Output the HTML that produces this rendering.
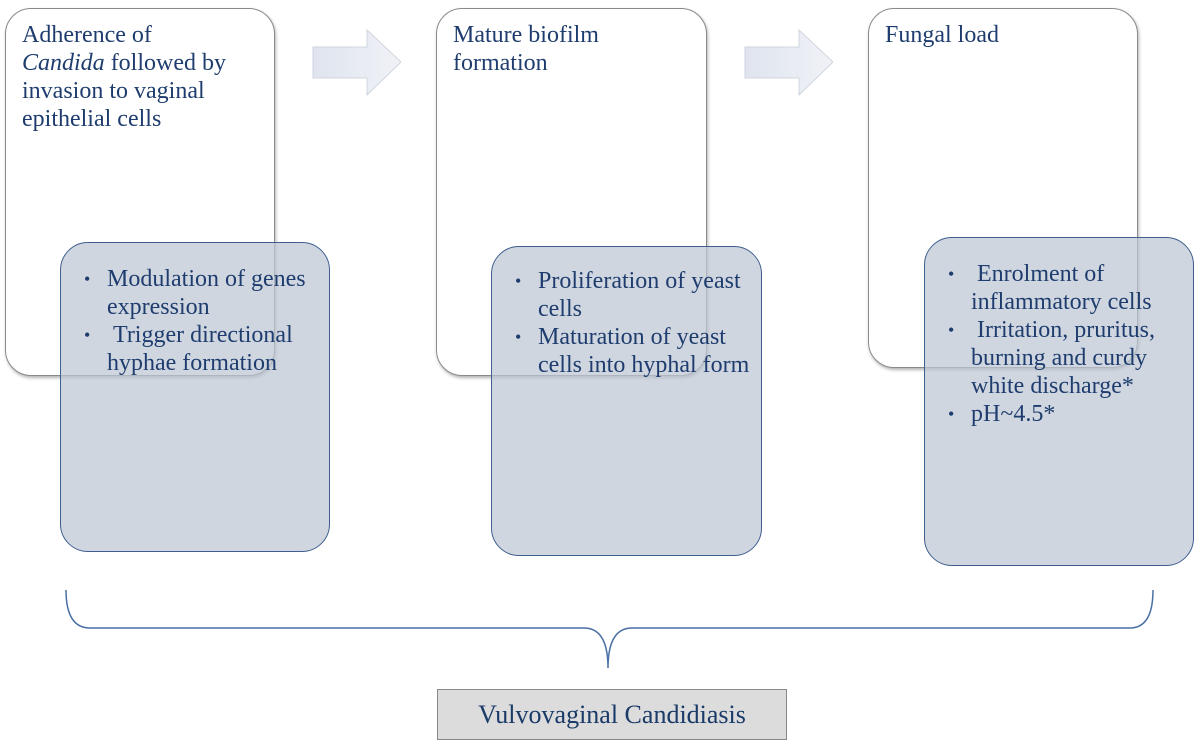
<!DOCTYPE html>
<html><head><style>
body{margin:0;width:1200px;height:744px;background:#fff;position:relative;overflow:hidden;font-family:"Liberation Serif",serif;color:#1e3d6e}
.w{position:absolute;background:#fff;border:1.5px solid #8a8a8a;border-radius:26px;box-shadow:1px 2px 3px rgba(0,0,0,.3);box-sizing:border-box;font-size:24px;line-height:28px;padding:12px 0 0 16px}
.d{position:absolute;background:rgba(190,198,212,.72);border:1.5px solid #3f5f8f;border-radius:28px;box-sizing:border-box;font-size:24px;line-height:28px}
.d ul{margin:0;padding:0;list-style:none}
.d li{position:relative;padding-left:46px}
.d li:before{content:"•";position:absolute;left:23px;font-size:18px}
</style></head><body>
<div class="w" style="left:5px;top:8px;width:270px;height:368px">Adherence of<br><i>Candida</i> followed by invasion to vaginal epithelial cells</div>
<div class="w" style="left:436px;top:8px;width:271px;height:368px">Mature biofilm<br>formation</div>
<div class="w" style="left:868px;top:8px;width:270px;height:360px">Fungal load</div>
<div class="d" style="left:60px;top:242px;width:270px;height:310px;padding-top:22px"><ul><li>Modulation of genes expression</li><li>&nbsp;Trigger directional hyphae formation</li></ul></div>
<div class="d" style="left:491px;top:246px;width:271px;height:310px;padding-top:20px"><ul><li>Proliferation of yeast cells</li><li>Maturation of yeast cells into hyphal form</li></ul></div>
<div class="d" style="left:924px;top:237px;width:270px;height:329px;padding-top:22px"><ul><li>&nbsp;Enrolment of inflammatory cells</li><li>&nbsp;Irritation, pruritus, burning and curdy white discharge*</li><li>pH~4.5*</li></ul></div>
<svg style="position:absolute;left:0;top:0" width="1200" height="744">
<defs><linearGradient id="g" x1="0" x2="1"><stop offset="0" stop-color="#dfe4ee"/><stop offset="1" stop-color="#f0f2f7"/></linearGradient></defs>
<polygon points="313,47 367,47 367,30 401,62 367,95 367,78 313,78" fill="url(#g)" stroke="#d0d5de"/>
<polygon points="745,47 799,47 799,30 833,62 799,95 799,78 745,78" fill="url(#g)" stroke="#d0d5de"/>
<path d="M66,590 Q66,628 90,628 L584,628 Q608,628 608,668 Q608,628 632,628 L1130,628 Q1153,628 1153,590" fill="none" stroke="#4a6fa5" stroke-width="1.5"/>
</svg>
<div style="position:absolute;left:437px;top:689px;width:350px;height:51px;background:#dcdcdc;border:1.5px solid #888;box-sizing:border-box;font-size:26px;line-height:50px;text-align:center;color:#1a3a68">Vulvovaginal Candidiasis</div>
</body></html>
